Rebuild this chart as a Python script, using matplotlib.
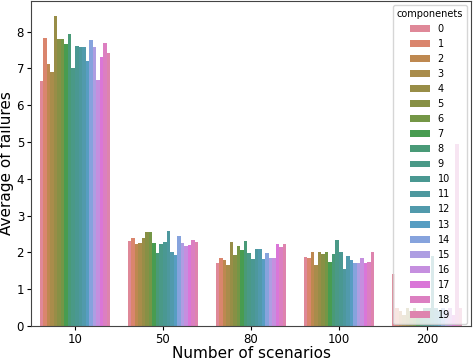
import matplotlib
matplotlib.use("Agg")
import matplotlib.pyplot as plt
import seaborn as sns
import pandas as pd

scenarios = ["10", "50", "80", "100", "200"]
components = [str(i) for i in range(20)]

fail_10 = [6.67, 7.82, 7.11, 6.91, 8.42, 7.80, 7.80, 7.66, 7.93, 7.00,
           7.62, 7.58, 7.58, 7.20, 7.78, 7.58, 6.68, 7.30, 7.69, 7.41]
fail_50 = [2.32, 2.38, 2.23, 2.26, 2.40, 2.56, 2.56, 2.25, 1.97, 2.23,
           2.27, 2.58, 2.00, 1.93, 2.45, 2.25, 2.17, 2.20, 2.34, 2.27]
fail_80 = [1.70, 1.84, 1.79, 1.67, 2.27, 1.93, 2.16, 2.07, 2.32, 1.99,
           1.81, 2.09, 2.08, 1.81, 1.97, 1.86, 1.84, 2.23, 2.14, 2.22]
fail_100 = [1.88, 1.84, 2.00, 1.66, 2.00, 1.95, 2.00, 1.75, 1.95, 2.35,
            2.00, 1.56, 1.90, 1.80, 1.72, 1.70, 1.86, 1.70, 1.75, 2.00]
fail_200 = [1.40, 0.50, 0.40, 0.30, 0.50, 0.40, 0.50, 0.40, 0.30, 0.50,
            0.50, 1.90, 0.50, 0.40, 0.50, 0.40, 0.50, 0.30, 4.95, 0.50]

rows = []
for sc, vals in zip(scenarios, [fail_10, fail_50, fail_80, fail_100, fail_200]):
    for comp, v in zip(components, vals):
        rows.append({"Number of scenarios": sc, "componenets": comp,
                     "Average of failures": v})
df = pd.DataFrame(rows)

fig = plt.figure(figsize=(4.74, 3.6), dpi=100)
ax = fig.add_axes([31/474, 34/360, 440/474, 325/360])
sns.barplot(data=df, x="Number of scenarios", y="Average of failures",
            hue="componenets", order=scenarios, hue_order=components,
            palette=sns.color_palette("husl", 20), saturation=0.65,
            errorbar=None, ax=ax)
ax.set_ylim(0, 8.83)
ax.set_xlim(-0.5, 4.5)
ax.set_xlabel("Number of scenarios", fontsize=11, labelpad=0)
ax.set_ylabel("Average of failures", fontsize=11, labelpad=2)
ax.tick_params(axis="both", labelsize=8.5, length=3, pad=2)
for s in ax.spines.values():
    s.set_color("#444444")
leg = ax.legend(title="componenets", loc="upper right", fontsize=7,
                title_fontsize=7, labelspacing=0.52, borderaxespad=0.4)
fig.savefig("out.png", dpi=100)
